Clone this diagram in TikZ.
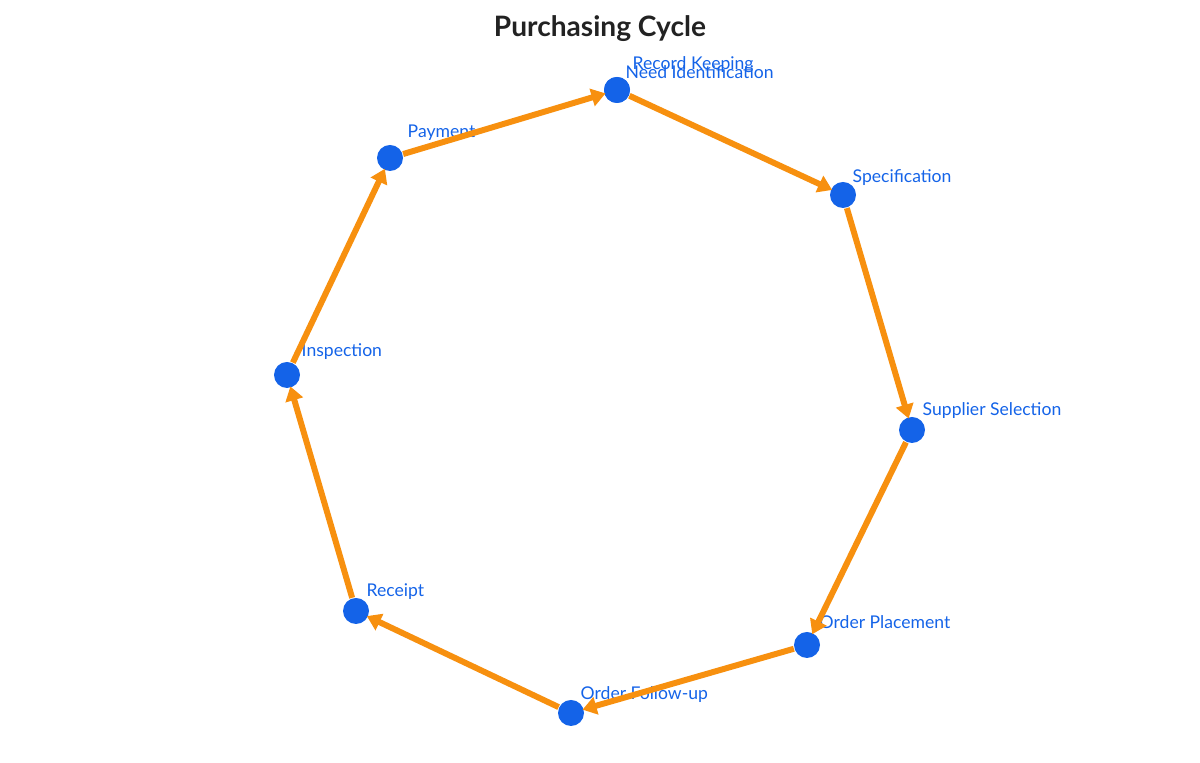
\documentclass[tikz,border=0pt]{standalone}
\usepackage{fontspec}
\setmainfont{Lato}
\definecolor{cyText}{HTML}{222222}
\definecolor{cyBlue}{HTML}{1463E8}
\definecolor{cyOrange}{HTML}{F7900F}
\usetikzlibrary{calc,positioning,arrows.meta}

\begin{document}
\begin{tikzpicture}[
  stage/.style={circle, fill=cyBlue, inner sep=0pt, minimum size=0.26cm},
  lbl/.style={anchor=west, text=cyBlue, font=\fontsize{5pt}{6pt}\selectfont, inner sep=0pt},
  arr/.style={-{Triangle[length=4pt,width=5pt]}, line width=1.7pt, color=cyOrange, shorten >=-0.5pt}
]
  \useasboundingbox (0,0) rectangle (12,7.63);
  \node[font=\fontsize{8pt}{9pt}\selectfont\bfseries, text=cyText] (title) at (6,7.34) {Purchasing Cycle};

  % stages of the cycle
  \node[stage] (need) at (6.17,6.73) {};
  \node[stage] (spec) at (8.43,5.68) {};
  \node[stage] (supp) at (9.12,3.33) {};
  \node[stage] (plac) at (8.07,1.18) {};
  \node[stage] (foll) at (5.71,0.50) {};
  \node[stage] (rece) at (3.56,1.52) {};
  \node[stage] (insp) at (2.87,3.88) {};
  \node[stage] (paym) at (3.90,6.05) {};
  \node[stage] (reco) at (6.17,6.73) {};

  \node[lbl] at (6.32,6.98) {Record Keeping};
  \node[lbl] at (6.25,6.91) {Need Identification};
  \node[lbl] at (8.52,5.85) {Specification};
  \node[lbl] at (9.22,3.52) {Supplier Selection};
  \node[lbl] at (8.19,1.41) {Order Placement};
  \node[lbl] at (5.80,0.68) {Order Follow-up};
  \node[lbl] at (3.66,1.71) {Receipt};
  \node[lbl] at (3.01,4.11) {Inspection};
  \node[lbl] at (4.07,6.30) {Payment};

  \draw[arr] (need) -- (spec);
  \draw[arr] (spec) -- (supp);
  \draw[arr] (supp) -- (plac);
  \draw[arr] (plac) -- (foll);
  \draw[arr] (foll) -- (rece);
  \draw[arr] (rece) -- (insp);
  \draw[arr] (insp) -- (paym);
  \draw[arr] (paym) -- (reco);
\end{tikzpicture}
\end{document}
